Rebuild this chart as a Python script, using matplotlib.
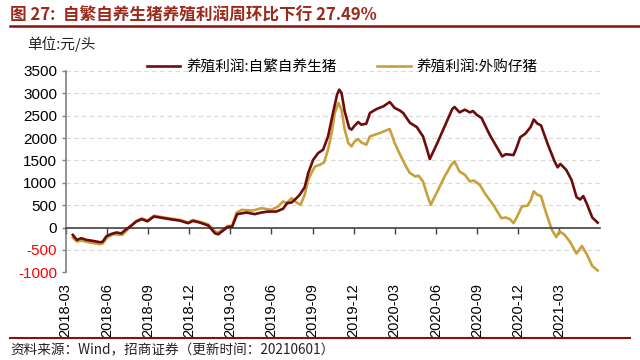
import pandas as pd
import matplotlib.pyplot as plt
import matplotlib.dates as mdates
from matplotlib.lines import Line2D

plt.rcParams['font.family'] = ['Liberation Sans', 'Noto Sans CJK SC']
CJK = ['Noto Sans CJK SC', 'DejaVu Sans']

# 养殖利润:自繁自养生猪 (元/头)
self_dates = ['2018-03-17', '2018-03-26', '2018-04-05', '2018-04-16', '2018-05-01', '2018-05-16',
              '2018-05-22', '2018-05-31', '2018-06-11', '2018-06-22', '2018-07-03', '2018-07-10',
              '2018-07-22', '2018-08-05', '2018-08-17', '2018-08-30', '2018-09-13', '2018-09-27',
              '2018-10-19', '2018-11-10', '2018-11-28', '2018-12-09', '2018-12-24', '2019-01-12',
              '2019-01-27', '2019-02-03', '2019-02-14', '2019-02-24', '2019-03-06', '2019-03-17',
              '2019-04-07', '2019-04-25', '2019-05-10', '2019-05-25', '2019-06-12', '2019-06-27',
              '2019-07-06', '2019-07-16', '2019-07-27', '2019-08-03', '2019-08-14', '2019-08-22',
              '2019-09-02', '2019-09-13', '2019-09-24', '2019-10-05', '2019-10-16', '2019-10-25',
              '2019-10-30', '2019-11-04', '2019-11-11', '2019-11-21', '2019-11-26', '2019-12-03',
              '2019-12-11', '2019-12-18', '2019-12-29', '2020-01-06', '2020-01-21', '2020-02-05',
              '2020-02-19', '2020-03-01', '2020-03-12', '2020-03-20', '2020-04-04', '2020-04-19',
              '2020-05-03', '2020-05-11', '2020-05-18', '2020-06-02', '2020-06-20', '2020-07-07',
              '2020-07-12', '2020-07-23', '2020-08-04', '2020-08-15', '2020-08-22', '2020-08-30',
              '2020-09-10', '2020-09-28', '2020-10-13', '2020-10-26', '2020-11-03', '2020-11-20',
              '2020-11-27', '2020-12-05', '2020-12-16', '2020-12-28', '2021-01-04', '2021-01-12',
              '2021-01-20', '2021-02-04', '2021-02-19', '2021-02-26', '2021-03-04', '2021-03-17',
              '2021-03-29', '2021-04-09', '2021-04-17', '2021-04-24', '2021-05-02', '2021-05-14',
              '2021-05-26']
self_vals = [-163, -275, -238, -275, -298, -327,
             -320, -190, -141, -110, -130, -67,
             22, 134, 187, 140, 246, 224,
             187, 155, 98, 150, 112, 45,
             -130, -150, -67, 15, 20, 300,
             336, 300, 336, 358, 358, 420,
             546, 560, 658, 733, 900, 1218,
             1516, 1665, 1740, 2037, 2561, 2971,
             3083, 3009, 2597, 2225, 2188, 2277,
             2360, 2300, 2322, 2561, 2651, 2710,
             2808, 2673, 2620, 2561, 2340, 2248,
             2037, 1778, 1531, 1852, 2261, 2651,
             2696, 2575, 2635, 2575, 2605, 2523,
             2449, 2076, 1814, 1590, 1640, 1621,
             1789, 2020, 2096, 2248, 2416, 2324,
             2286, 1865, 1484, 1346, 1422, 1292,
             1064, 681, 627, 705, 528, 224,
             110]

# 养殖利润:外购仔猪 (元/头)
buy_dates = ['2018-03-17', '2018-03-26', '2018-04-05', '2018-04-20', '2018-05-16', '2018-05-23',
             '2018-06-01', '2018-06-15', '2018-07-05', '2018-07-18', '2018-08-05', '2018-08-17',
             '2018-08-30', '2018-09-13', '2018-09-27', '2018-10-19', '2018-11-10', '2018-11-28',
             '2018-12-09', '2018-12-24', '2019-01-12', '2019-01-27', '2019-02-03', '2019-02-14',
             '2019-02-25', '2019-03-06', '2019-03-16', '2019-03-27', '2019-04-21', '2019-05-10',
             '2019-06-01', '2019-06-16', '2019-06-27', '2019-07-05', '2019-07-16', '2019-07-27',
             '2019-08-05', '2019-08-14', '2019-08-22', '2019-08-29', '2019-09-06', '2019-09-17',
             '2019-09-26', '2019-10-05', '2019-10-13', '2019-10-20', '2019-10-28', '2019-11-04',
             '2019-11-11', '2019-11-19', '2019-11-26', '2019-12-03', '2019-12-11', '2019-12-18',
             '2019-12-29', '2020-01-06', '2020-01-28', '2020-02-19', '2020-03-01', '2020-03-12',
             '2020-03-28', '2020-04-04', '2020-04-16', '2020-04-23', '2020-05-03', '2020-05-11',
             '2020-05-20', '2020-06-02', '2020-06-20', '2020-07-05', '2020-07-12', '2020-07-23',
             '2020-08-04', '2020-08-15', '2020-08-24', '2020-09-06', '2020-09-17', '2020-10-06',
             '2020-10-24', '2020-11-03', '2020-11-12', '2020-11-20', '2020-11-27', '2020-12-09',
             '2020-12-21', '2020-12-28', '2021-01-04', '2021-01-12', '2021-01-20', '2021-01-31',
             '2021-02-13', '2021-02-23', '2021-03-02', '2021-03-13', '2021-03-25', '2021-04-09',
             '2021-04-21', '2021-05-02', '2021-05-14', '2021-05-26']
buy_vals = [-224, -313, -290, -327, -372, -350,
            -224, -148, -163, -30, 150, 205,
            160, 265, 240, 205, 172, 115,
            170, 130, 70, -89, -110, -30,
            37, 40, 336, 396, 380, 434,
            396, 470, 582, 546, 658, 560,
            508, 732, 1068, 1218, 1366, 1404,
            1455, 1740, 2114, 2561, 2785, 2635,
            2188, 1890, 1814, 1926, 1979, 1904,
            1852, 2037, 2114, 2203, 1890, 1650,
            1330, 1218, 1142, 1160, 1030, 770,
            508, 770, 1142, 1404, 1478, 1254,
            1180, 1030, 1052, 956, 770, 508,
            210, 225, 188, 100, 224, 475,
            490, 605, 810, 734, 705, 338,
            -45, -213, -83, -159, -311, -580,
            -412, -600, -860, -960]

yticks = [-1000, -500, 0, 500, 1000, 1500, 2000, 2500, 3000, 3500]
xticks = ['2018-03', '2018-06', '2018-09', '2018-12', '2019-03', '2019-06', '2019-09',
          '2019-12', '2020-03', '2020-06', '2020-09', '2020-12', '2021-03']

red = '#6E0B0B'
gold = '#C9A03C'

fig = plt.figure(figsize=(6.4, 3.6), dpi=100)
ax = fig.add_axes([0.1025, 0.2436, 0.8356, 0.5592])

ax.plot(pd.to_datetime(self_dates), self_vals, color=red, lw=1.9, zorder=3)
ax.plot(pd.to_datetime(buy_dates), buy_vals, color=gold, lw=1.9, zorder=2)

ax.set_ylim(-1000, 3500)
ax.set_xlim(pd.Timestamp('2018-03-01'), pd.Timestamp('2021-06-01'))
ax.set_yticks(yticks)
ax.set_yticklabels([str(v) for v in yticks], fontsize=11)
for lab, v in zip(ax.get_yticklabels(), yticks):
    if v < 0:
        lab.set_color('#FF0000')

for v in yticks:
    if v != 0:
        ax.axhline(v, color='#D9D9D9', lw=0.8, ls=(0, (4, 3)), zorder=0)

ax.set_xticks(pd.to_datetime(xticks))
ax.xaxis.set_major_formatter(mdates.DateFormatter('%Y-%m'))
ax.tick_params(axis='x', direction='out', length=4, width=1, color='#404040',
               pad=36, labelsize=10.5, labelrotation=90)
ax.tick_params(axis='y', direction='out', length=3, width=1, color='#808080', pad=3)

for s in ['top', 'right']:
    ax.spines[s].set_visible(False)
ax.spines['left'].set_color('#808080')
ax.spines['left'].set_linewidth(1.2)
ax.spines['bottom'].set_position(('data', 0))
ax.spines['bottom'].set_color('#404040')
ax.spines['bottom'].set_linewidth(1.2)

handles = [Line2D([], [], color=red, lw=1.9), Line2D([], [], color=gold, lw=1.9)]
fig.legend(handles, ['养殖利润:自繁自养生猪', '养殖利润:外购仔猪'], loc='center',
           bbox_to_anchor=(0.535, 0.814), ncol=2, frameon=False, handlelength=2.3,
           handletextpad=0.4, columnspacing=2.8, prop={'family': CJK, 'size': 10.5})

fig.text(0.016, 0.957, '图 27:  自繁自养生猪养殖利润周环比下行 27.49%', family=CJK,
         fontsize=12, fontweight='bold', color='#9C2A1C', va='center', ha='left')
fig.add_artist(Line2D([0.016, 1.0], [0.928, 0.928], color='#8B1010', lw=1.8))
fig.text(0.042, 0.878, '单位:元/头', family=CJK, fontsize=10.5, color='#222222',
         va='center', ha='left')

fig.add_artist(Line2D([0.016, 0.985], [0.061, 0.061], color='#8B1010', lw=1.5))
fig.text(0.016, 0.027, '资料来源：Wind，招商证券（更新时间：20210601）', family=CJK,
         fontsize=9.8, color='#222222', va='center', ha='left')

fig.savefig('out.png', dpi=100)
